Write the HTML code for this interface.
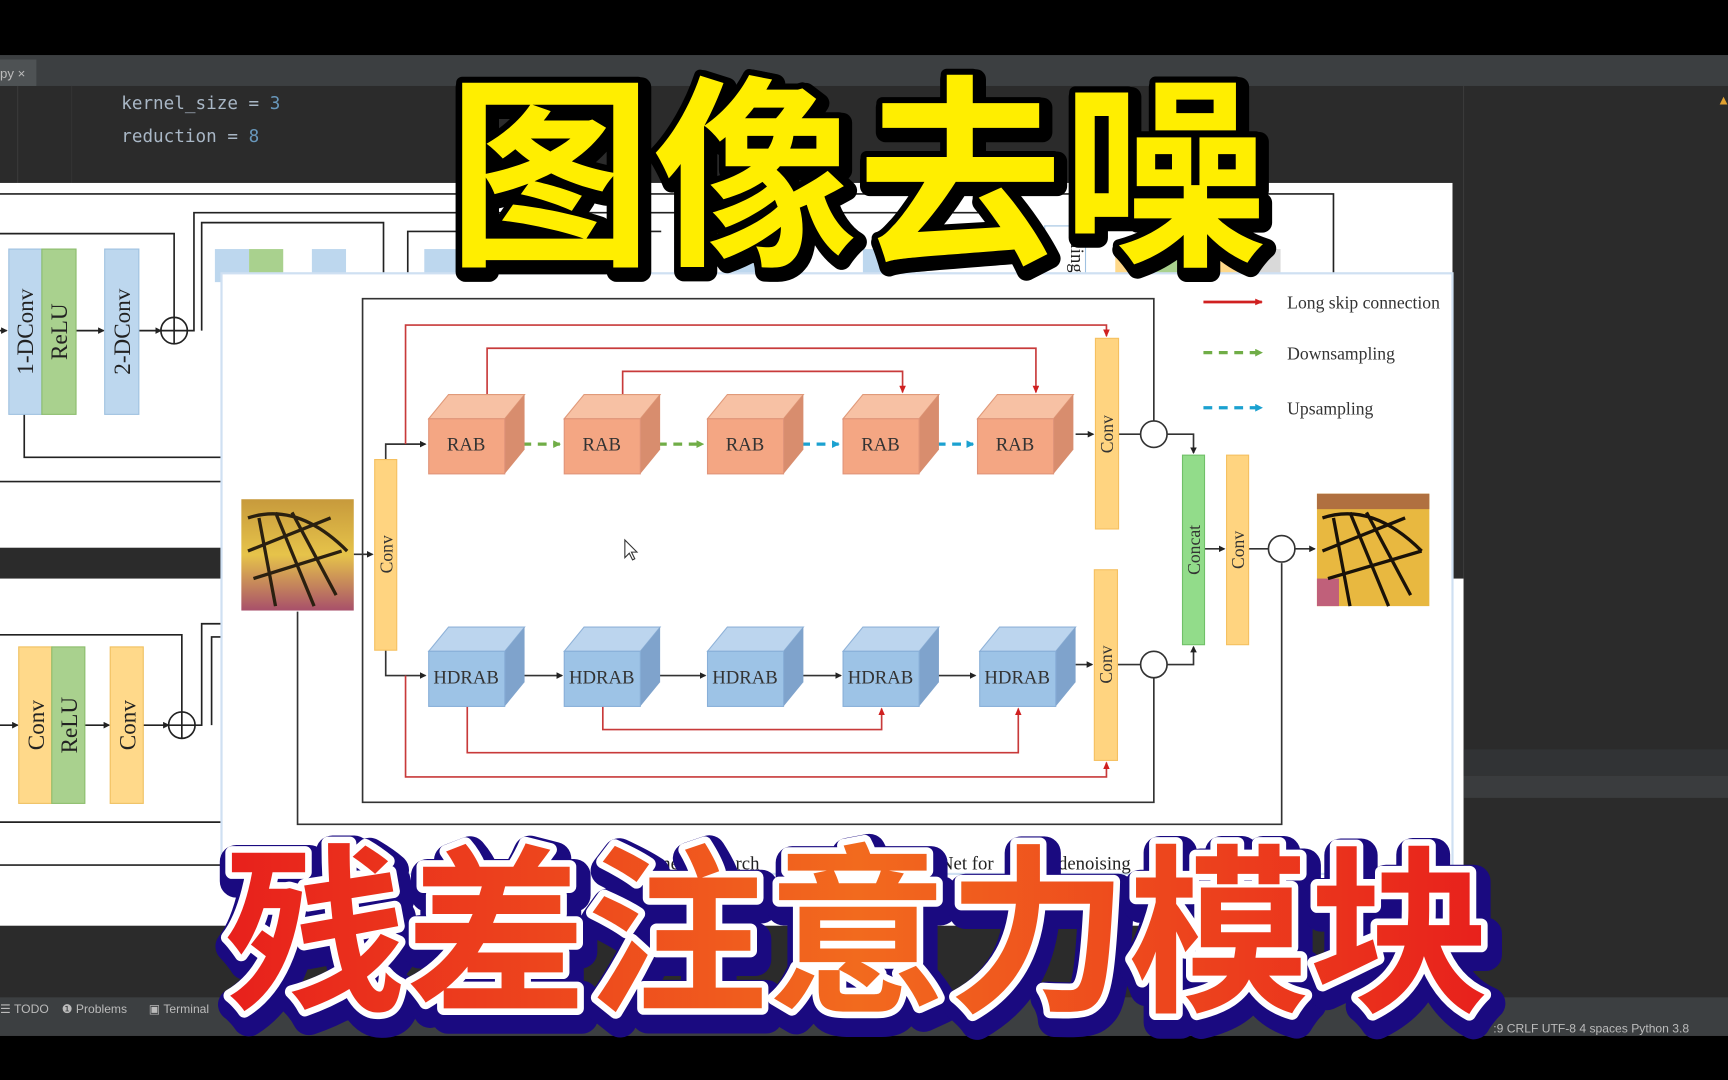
<!DOCTYPE html>
<html><head><meta charset="utf-8"><style>
html,body{margin:0;padding:0;background:#000;overflow:hidden;width:1728px;height:1080px}
svg{display:block}
</style></head><body>
<svg width="1728" height="1080" viewBox="0 0 1568 980" xmlns="http://www.w3.org/2000/svg" font-family="Liberation Serif, serif">
<defs>
<marker id="ak" markerWidth="6" markerHeight="6" refX="5" refY="3" orient="auto" markerUnits="userSpaceOnUse"><path d="M0,0 L6,3 L0,6z" fill="#222"/></marker>
<marker id="ar" markerWidth="7" markerHeight="6" refX="6" refY="3" orient="auto" markerUnits="userSpaceOnUse"><path d="M0,0 L7,3 L0,6z" fill="#d02020"/></marker>
<marker id="ag" markerWidth="7" markerHeight="7" refX="6" refY="3.5" orient="auto" markerUnits="userSpaceOnUse"><path d="M0,0 L7,3.5 L0,7z" fill="#70ad47"/></marker>
<marker id="ab" markerWidth="7" markerHeight="7" refX="6" refY="3.5" orient="auto" markerUnits="userSpaceOnUse"><path d="M0,0 L7,3.5 L0,7z" fill="#1ba1d0"/></marker>
<linearGradient id="rg" x1="0" y1="0" x2="1" y2="0" gradientUnits="objectBoundingBox">
<stop offset="0" stop-color="#e8201c"/><stop offset="0.5" stop-color="#f26a1e"/><stop offset="1" stop-color="#e8201c"/></linearGradient>
<linearGradient id="bf" x1="0" y1="0" x2="0" y2="1"><stop offset="0" stop-color="#c79a3c"/><stop offset="0.5" stop-color="#e6c34a"/><stop offset="1" stop-color="#a8506a"/></linearGradient>
</defs>
<rect x="0" y="0" width="1568" height="980" fill="#000"/>
<rect x="0" y="50" width="1568" height="890" fill="#2b2b2b"/>
<rect x="0" y="50" width="1568" height="28" fill="#3c3f41"/>
<rect x="0" y="54" width="33" height="24" fill="#4e5254"/>
<text x="0" y="71" font-family="Liberation Sans, sans-serif" font-size="12" fill="#bbb">py ×</text>
<line x1="16" y1="78" x2="16" y2="166" stroke="#3a3a3a"/>
<line x1="65" y1="78" x2="65" y2="166" stroke="#333"/>
<text x="110" y="99" font-family="DejaVu Sans Mono, monospace" font-size="16" fill="#a9b7c6">kernel_size = <tspan fill="#6897bb">3</tspan></text>
<text x="110" y="129" font-family="DejaVu Sans Mono, monospace" font-size="16" fill="#a9b7c6">reduction = <tspan fill="#6897bb">8</tspan></text>
<line x1="1328" y1="78" x2="1328" y2="905" stroke="#3a3a3a"/>
<rect x="1328" y="680" width="240" height="24" fill="#313335"/>
<rect x="1328" y="704" width="240" height="20" fill="#3a3c3e"/>
<text x="1558" y="95" font-size="12" fill="#e0a030" font-family="Liberation Sans, sans-serif">▲</text>

<rect x="0" y="166" width="1318" height="331" fill="#fff"/>
<g stroke="#222" stroke-width="1.5" fill="none">
<polyline points="0,176 1210,176 1210,250"/>
<polyline points="0,212 158,212 158,288"/>
<polyline points="170,300 176,300 176,193 932,193 932,250"/>
<polyline points="183,300 183,202 348,202 348,250"/>
<polyline points="370,250 370,210 600,210"/>
<polyline points="22,376 22,415 201,415"/>
<line x1="0" y1="300" x2="6" y2="300" marker-end="url(#ak)"/>
<line x1="69" y1="300" x2="94" y2="300" marker-end="url(#ak)"/>
<line x1="126" y1="300" x2="146" y2="300" marker-end="url(#ak)"/>
<line x1="0" y1="437" x2="201" y2="437"/>
</g>
<rect x="8" y="226" width="30" height="150" fill="#bdd7ee" stroke="#9fc1e0"/>
<rect x="38" y="226" width="31" height="150" fill="#a9d18e" stroke="#8cbd6c"/>
<rect x="95" y="226" width="31" height="150" fill="#bdd7ee" stroke="#9fc1e0"/>
<text transform="translate(30,301) rotate(-90)" text-anchor="middle" font-size="21" fill="#222">1-DConv</text>
<text transform="translate(61,301) rotate(-90)" text-anchor="middle" font-size="21" fill="#222">ReLU</text>
<text transform="translate(118,301) rotate(-90)" text-anchor="middle" font-size="21" fill="#222">2-DConv</text>
<circle cx="158" cy="300" r="12" fill="none" stroke="#222" stroke-width="1.5"/>
<line x1="146" y1="300" x2="170" y2="300" stroke="#222" stroke-width="1.5"/><line x1="158" y1="288" x2="158" y2="312" stroke="#222" stroke-width="1.5"/>
<g>
<rect x="195" y="226" width="31" height="30" fill="#bdd7ee"/><rect x="226" y="226" width="31" height="30" fill="#a9d18e"/>
<rect x="283" y="226" width="31" height="30" fill="#bdd7ee"/>
<rect x="385" y="226" width="31" height="30" fill="#bdd7ee"/><rect x="416" y="226" width="31" height="30" fill="#a9d18e"/>
<rect x="510" y="226" width="31" height="30" fill="#bdd7ee"/>
<rect x="655" y="226" width="31" height="30" fill="#bdd7ee"/><rect x="686" y="226" width="31" height="30" fill="#a9d18e"/>
<rect x="783" y="226" width="31" height="30" fill="#bdd7ee"/>
<rect x="948" y="205" width="37" height="50" fill="#fff" stroke="#9fc1e0"/>
<text transform="translate(972,230) rotate(90)" text-anchor="middle" font-size="17" fill="#222">oling</text>
<rect x="1012" y="226" width="31" height="30" fill="#ffd98a"/><rect x="1043" y="226" width="31" height="30" fill="#a9d18e"/>
<rect x="1100" y="226" width="31" height="30" fill="#ffd98a"/><rect x="1131" y="226" width="31" height="30" fill="#d9d9d9"/>
</g>

<rect x="0" y="525" width="1328" height="315" fill="#fff"/>
<g stroke="#222" stroke-width="1.5" fill="none">
<polyline points="0,576 165,576 165,646"/>
<polyline points="177,658 183,658 183,566 201,566"/>
<polyline points="192,658 192,578 201,578"/>
<line x1="0" y1="658" x2="16" y2="658" marker-end="url(#ak)"/>
<line x1="77" y1="658" x2="99" y2="658" marker-end="url(#ak)"/>
<line x1="130" y1="658" x2="153" y2="658" marker-end="url(#ak)"/>
<line x1="0" y1="746" x2="201" y2="746"/>
<line x1="0" y1="785" x2="1318" y2="785"/>
</g>
<rect x="17" y="587" width="30" height="142" fill="#ffd98a" stroke="#f0c060"/>
<rect x="47" y="587" width="30" height="142" fill="#a9d18e" stroke="#8cbd6c"/>
<rect x="100" y="587" width="30" height="142" fill="#ffd98a" stroke="#f0c060"/>
<text transform="translate(40,658) rotate(-90)" text-anchor="middle" font-size="21" fill="#222">Conv</text>
<text transform="translate(70,658) rotate(-90)" text-anchor="middle" font-size="21" fill="#222">ReLU</text>
<text transform="translate(123,658) rotate(-90)" text-anchor="middle" font-size="21" fill="#222">Conv</text>
<circle cx="165" cy="658" r="12" fill="none" stroke="#222" stroke-width="1.5"/>
<line x1="153" y1="658" x2="177" y2="658" stroke="#222" stroke-width="1.5"/><line x1="165" y1="646" x2="165" y2="670" stroke="#222" stroke-width="1.5"/>

<rect x="201" y="248" width="1117" height="545" fill="#fff" stroke="#cfe0f2" stroke-width="2"/>
<g font-size="17" fill="#222">
<text x="505" y="789">ure</text><text x="600" y="789">network arch</text><text x="853" y="789">Net for</text><text x="960" y="789">denoising</text>
</g>

<g stroke="#333" stroke-width="1.5" fill="none">
<polyline points="1047,382 1047,271 329,271 329,728 1047,728 1047,615"/>
<polyline points="270,555 270,748 1163,748 1163,511"/>
<polyline points="350,417 350,403 386,403" marker-end="url(#ak)"/>
<polyline points="350,590 350,613 386,613" marker-end="url(#ak)"/>
<line x1="321" y1="503" x2="338" y2="503" marker-end="url(#ak)"/>
<line x1="976" y1="394" x2="992" y2="394" marker-end="url(#ak)"/>
<line x1="1015" y1="394" x2="1035" y2="394"/>
<polyline points="1059,394 1083,394 1083,411" marker-end="url(#ak)"/>
<line x1="976" y1="603" x2="991" y2="603" marker-end="url(#ak)"/>
<line x1="1014" y1="603" x2="1035" y2="603"/>
<polyline points="1059,603 1083,603 1083,587" marker-end="url(#ak)"/>
<line x1="1093" y1="498" x2="1111" y2="498" marker-end="url(#ak)"/>
<line x1="1133" y1="498" x2="1151" y2="498"/>
<line x1="1175" y1="498" x2="1193" y2="498" marker-end="url(#ak)"/>
<line x1="458" y1="613" x2="510" y2="613" marker-end="url(#ak)"/>
<line x1="581" y1="613" x2="640" y2="613" marker-end="url(#ak)"/>
<line x1="711" y1="613" x2="763" y2="613" marker-end="url(#ak)"/>
<line x1="834" y1="613" x2="885" y2="613" marker-end="url(#ak)"/>
</g>
<g stroke="#c83a3a" stroke-width="1.5" fill="none">
<polyline points="368,403 368,295 1004,295 1004,305" marker-end="url(#ar)"/>
<polyline points="368,613 368,705 1004,705 1004,692" marker-end="url(#ar)"/>
<polyline points="442,358 442,316 940,316 940,356" marker-end="url(#ar)"/>
<polyline points="565,358 565,337 819,337 819,356" marker-end="url(#ar)"/>
<polyline points="424,641 424,683 924,683 924,643" marker-end="url(#ar)"/>
<polyline points="547,641 547,662 800,662 800,643" marker-end="url(#ar)"/>
</g>
<g stroke-width="3" fill="none" stroke-dasharray="8,6">
<line x1="460" y1="403" x2="508" y2="403" stroke="#70ad47" marker-end="url(#ag)"/>
<line x1="583" y1="403" x2="638" y2="403" stroke="#70ad47" marker-end="url(#ag)"/>
<line x1="713" y1="403" x2="761" y2="403" stroke="#1ba1d0" marker-end="url(#ab)"/>
<line x1="836" y1="403" x2="883" y2="403" stroke="#1ba1d0" marker-end="url(#ab)"/>
</g>
<g font-size="17" fill="#333" text-anchor="middle">
<g><polygon points="389,380 407,358 476,358 458,380" fill="#f7c1a4" stroke="#e09a7a"/><polygon points="458,380 476,358 476,408 458,430" fill="#d88d6e"/><rect x="389" y="380" width="69" height="50" fill="#f4a683" stroke="#e0947a"/><text x="423" y="409">RAB</text></g>
<g transform="translate(123,0)"><polygon points="389,380 407,358 476,358 458,380" fill="#f7c1a4" stroke="#e09a7a"/><polygon points="458,380 476,358 476,408 458,430" fill="#d88d6e"/><rect x="389" y="380" width="69" height="50" fill="#f4a683" stroke="#e0947a"/><text x="423" y="409">RAB</text></g>
<g transform="translate(253,0)"><polygon points="389,380 407,358 476,358 458,380" fill="#f7c1a4" stroke="#e09a7a"/><polygon points="458,380 476,358 476,408 458,430" fill="#d88d6e"/><rect x="389" y="380" width="69" height="50" fill="#f4a683" stroke="#e0947a"/><text x="423" y="409">RAB</text></g>
<g transform="translate(376,0)"><polygon points="389,380 407,358 476,358 458,380" fill="#f7c1a4" stroke="#e09a7a"/><polygon points="458,380 476,358 476,408 458,430" fill="#d88d6e"/><rect x="389" y="380" width="69" height="50" fill="#f4a683" stroke="#e0947a"/><text x="423" y="409">RAB</text></g>
<g transform="translate(498,0)"><polygon points="389,380 407,358 476,358 458,380" fill="#f7c1a4" stroke="#e09a7a"/><polygon points="458,380 476,358 476,408 458,430" fill="#d88d6e"/><rect x="389" y="380" width="69" height="50" fill="#f4a683" stroke="#e0947a"/><text x="423" y="409">RAB</text></g>
<g><polygon points="389,591 407,569 476,569 458,591" fill="#bcd5ee" stroke="#8fb2d8"/><polygon points="458,591 476,569 476,619 458,641" fill="#7fa3cc"/><rect x="389" y="591" width="69" height="50" fill="#9dc3e6" stroke="#88afd8"/><text x="423" y="620">HDRAB</text></g>
<g transform="translate(123,0)"><polygon points="389,591 407,569 476,569 458,591" fill="#bcd5ee" stroke="#8fb2d8"/><polygon points="458,591 476,569 476,619 458,641" fill="#7fa3cc"/><rect x="389" y="591" width="69" height="50" fill="#9dc3e6" stroke="#88afd8"/><text x="423" y="620">HDRAB</text></g>
<g transform="translate(253,0)"><polygon points="389,591 407,569 476,569 458,591" fill="#bcd5ee" stroke="#8fb2d8"/><polygon points="458,591 476,569 476,619 458,641" fill="#7fa3cc"/><rect x="389" y="591" width="69" height="50" fill="#9dc3e6" stroke="#88afd8"/><text x="423" y="620">HDRAB</text></g>
<g transform="translate(376,0)"><polygon points="389,591 407,569 476,569 458,591" fill="#bcd5ee" stroke="#8fb2d8"/><polygon points="458,591 476,569 476,619 458,641" fill="#7fa3cc"/><rect x="389" y="591" width="69" height="50" fill="#9dc3e6" stroke="#88afd8"/><text x="423" y="620">HDRAB</text></g>
<g transform="translate(500,0)"><polygon points="389,591 407,569 476,569 458,591" fill="#bcd5ee" stroke="#8fb2d8"/><polygon points="458,591 476,569 476,619 458,641" fill="#7fa3cc"/><rect x="389" y="591" width="69" height="50" fill="#9dc3e6" stroke="#88afd8"/><text x="423" y="620">HDRAB</text></g>
</g>
<rect x="340" y="417" width="20" height="173" fill="#ffd480" stroke="#f5c060"/>
<text transform="translate(356,503) rotate(-90)" text-anchor="middle" font-size="16" fill="#333">Conv</text>
<rect x="994" y="307" width="21" height="173" fill="#ffd480" stroke="#f5c060"/>
<text transform="translate(1010,394) rotate(-90)" text-anchor="middle" font-size="16" fill="#333">Conv</text>
<rect x="993" y="517" width="21" height="173" fill="#ffd480" stroke="#f5c060"/>
<text transform="translate(1009,603) rotate(-90)" text-anchor="middle" font-size="16" fill="#333">Conv</text>
<rect x="1073" y="413" width="20" height="172" fill="#92dc8a" stroke="#70c068"/>
<text transform="translate(1089,499) rotate(-90)" text-anchor="middle" font-size="16" fill="#333">Concat</text>
<rect x="1113" y="413" width="20" height="172" fill="#ffd480" stroke="#f5c060"/>
<text transform="translate(1129,499) rotate(-90)" text-anchor="middle" font-size="16" fill="#333">Conv</text>
<g fill="#fff" stroke="#333" stroke-width="1.5">
<ellipse cx="1047" cy="394" rx="12" ry="12"/><ellipse cx="1047" cy="603" rx="12" ry="12"/><ellipse cx="1163" cy="498" rx="12" ry="12"/>
</g>
<g>
<rect x="219" y="453" width="102" height="101" fill="url(#bf)"/>
<g stroke="#2a2010" stroke-width="3" fill="none"><path d="M225,470 Q270,455 315,500 M235,470 L250,550 M250,465 L285,550 M265,465 L305,540 M225,500 L300,470 M230,525 L310,500"/></g>
<rect x="1195" y="448" width="102" height="102" fill="#e8b840"/>
<rect x="1195" y="448" width="102" height="14" fill="#b07040"/>
<rect x="1195" y="525" width="20" height="25" fill="#c0607a"/>
<g stroke="#1a1208" stroke-width="3" fill="none"><path d="M1200,470 Q1245,455 1290,500 M1210,470 L1225,550 M1225,465 L1260,550 M1240,465 L1280,540 M1200,500 L1275,470 M1205,525 L1290,500"/></g>
</g>
<line x1="1092" y1="274" x2="1145" y2="274" stroke="#d02020" stroke-width="2.5" marker-end="url(#ar)"/>
<text x="1168" y="280" font-size="16" fill="#333">Long skip connection</text>
<line x1="1092" y1="320" x2="1145" y2="320" stroke="#70ad47" stroke-width="3" stroke-dasharray="8,6" marker-end="url(#ag)"/>
<text x="1168" y="326" font-size="16" fill="#333">Downsampling</text>
<line x1="1092" y1="370" x2="1145" y2="370" stroke="#1ba1d0" stroke-width="3" stroke-dasharray="8,6" marker-end="url(#ab)"/>
<text x="1168" y="376" font-size="16" fill="#333">Upsampling</text>
<path d="M567,490 L567,506 L571,502 L574,508 L576,507 L573,501 L578,501 Z" fill="#fff" stroke="#333" stroke-width="1"/>

<rect x="0" y="905" width="1568" height="35" fill="#3c3f41"/>
<g font-family="Liberation Sans, sans-serif" font-size="11" fill="#bbb">
<text x="0" y="919">☰ TODO</text><text x="56" y="919">❶ Problems</text><text x="135" y="919">▣ Terminal</text>
<text x="1355" y="937">:9   CRLF   UTF-8   4 spaces   Python 3.8</text>
</g>

<g font-family="Noto Sans CJK SC, WenQuanYi Zen Hei, sans-serif" font-weight="700" font-size="186" text-anchor="middle">
<text x="778" y="226" fill="#000" stroke="#000" stroke-width="18" stroke-linejoin="round" transform="translate(3,4)">图像去噪</text>
<text x="778" y="226" fill="#ffee00" stroke="#000" stroke-width="11" stroke-linejoin="round" paint-order="stroke fill">图像去噪</text>
</g>
<g font-family="Noto Sans CJK SC, WenQuanYi Zen Hei, sans-serif" font-weight="700" font-size="164" text-anchor="middle">
<text x="778" y="905" fill="#1a0a80" stroke="#1a0a80" stroke-width="30" stroke-linejoin="round" transform="translate(4,8)">残差注意力模块</text>
<text x="778" y="905" fill="url(#rg)" stroke="#fff" stroke-width="12" stroke-linejoin="round" paint-order="stroke fill">残差注意力模块</text>
</g>
</svg>
</body></html>
